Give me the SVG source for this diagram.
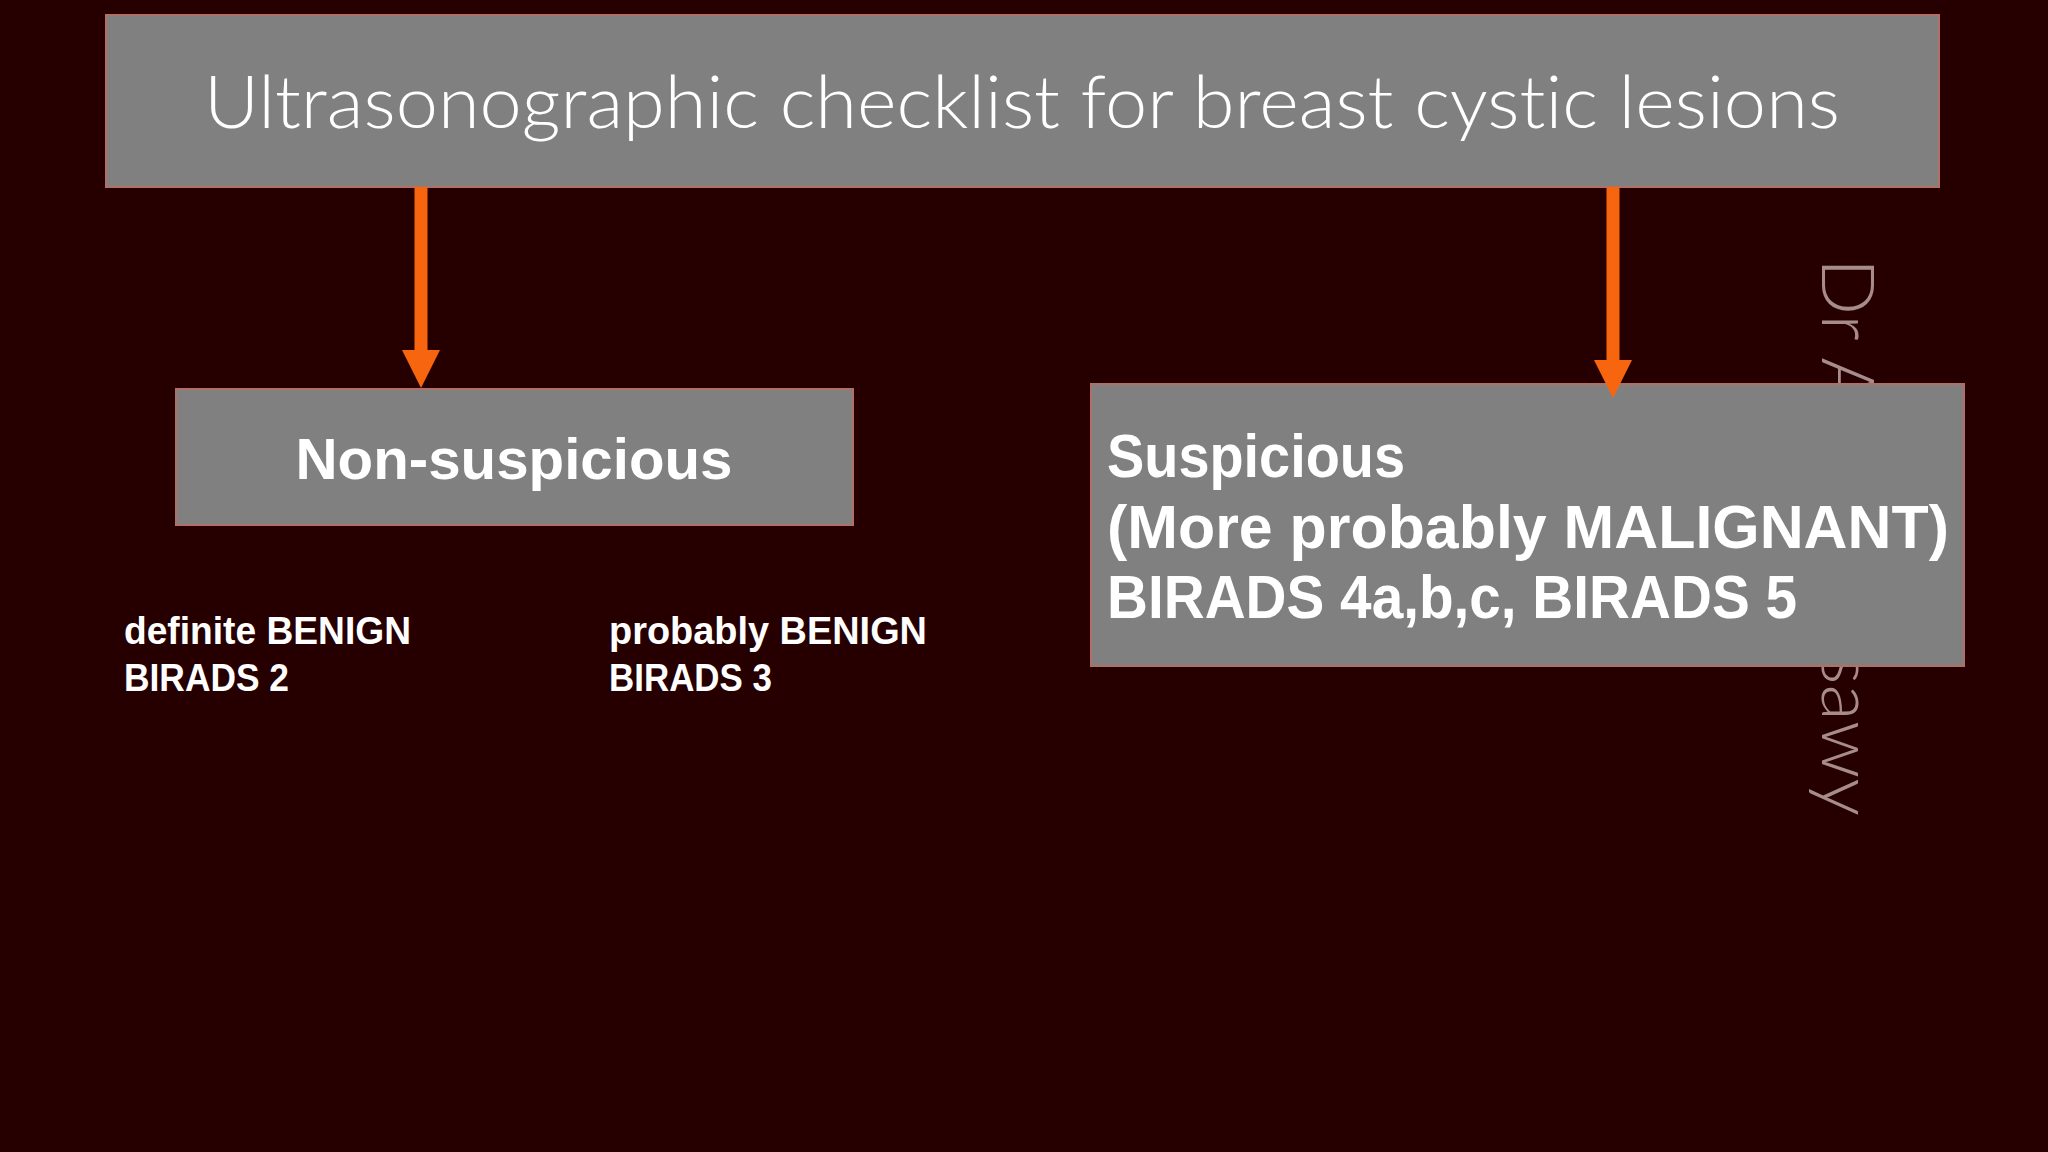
<svg xmlns="http://www.w3.org/2000/svg" width="2048" height="1152" viewBox="0 0 2048 1152">
<style>
.box{fill:#808080;stroke:#b07068;stroke-width:2}
.ttl{font-family:Lato,"Open Sans","Liberation Sans",sans-serif;font-weight:300;fill:#ffffff;font-variant-ligatures:none}
.bld{font-family:"Liberation Sans",Arial,sans-serif;font-weight:bold;fill:#ffffff}
.wm{font-family:Lato,"Liberation Sans",sans-serif;font-weight:300;fill:#a88c8c;font-variant-ligatures:none}
.conn{stroke:#f7660f;stroke-width:13;fill:none}
</style>
<defs>
<marker id="ah" markerUnits="userSpaceOnUse" markerWidth="38" markerHeight="38" refX="0" refY="19" orient="auto">
<path d="M0,0 L38,19 L0,38 Z" fill="#f7660f"/>
</marker>
</defs>
<rect width="2048" height="1152" fill="#260001"/>
<text class="wm" transform="translate(1822,258) rotate(90)" x="0" y="0" font-size="72" textLength="558" lengthAdjust="spacingAndGlyphs">Dr Ahmed Esawy</text>
<g id="title">
<rect class="box" x="106" y="15" width="1833" height="172"/>
<text class="ttl" x="1022" y="128" font-size="72" text-anchor="middle" textLength="1636" lengthAdjust="spacingAndGlyphs">Ultrasonographic checklist for breast cystic lesions</text>
</g>
<g id="non-suspicious">
<rect class="box" x="176" y="389" width="677" height="136"/>
<text class="bld" x="514" y="479" font-size="58" text-anchor="middle" textLength="437" lengthAdjust="spacingAndGlyphs">Non-suspicious</text>
</g>
<g id="definite-benign">
<text class="bld" font-size="38"><tspan x="124" y="644" textLength="287" lengthAdjust="spacingAndGlyphs">definite BENIGN</tspan><tspan x="124" y="691" textLength="165" lengthAdjust="spacingAndGlyphs">BIRADS 2</tspan></text>
</g>
<g id="probably-benign">
<text class="bld" font-size="38"><tspan x="609" y="644" textLength="318" lengthAdjust="spacingAndGlyphs">probably BENIGN</tspan><tspan x="609" y="691" textLength="163" lengthAdjust="spacingAndGlyphs">BIRADS 3</tspan></text>
</g>
<g id="suspicious">
<rect class="box" x="1091" y="384" width="873" height="282"/>
<text class="bld" font-size="62"><tspan x="1107" y="477" textLength="298" lengthAdjust="spacingAndGlyphs">Suspicious</tspan><tspan x="1107" y="548" textLength="842" lengthAdjust="spacingAndGlyphs">(More probably MALIGNANT)</tspan><tspan x="1107" y="618" textLength="690" lengthAdjust="spacingAndGlyphs">BIRADS 4a,b,c, BIRADS 5</tspan></text>
</g>
<g id="connectors">
<line class="conn" x1="421" y1="187" x2="421" y2="350" marker-end="url(#ah)"/>
<line class="conn" x1="1613" y1="187" x2="1613" y2="360" marker-end="url(#ah)"/>
</g>
</svg>
